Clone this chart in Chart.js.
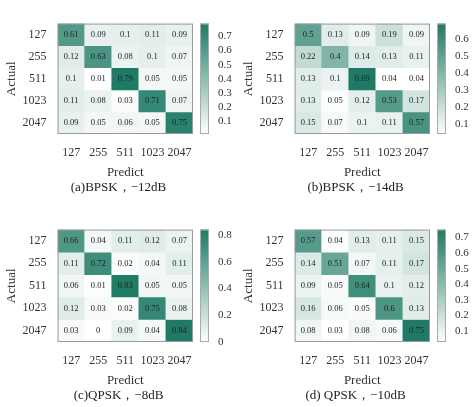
<!DOCTYPE html><html><head><meta charset="utf-8">
<script src="https://cdn.jsdelivr.net/npm/chart.js@4"></script>
<style>
body{margin:0;background:#fff;width:474px;height:407px;overflow:hidden;font-family:"Liberation Serif",serif}
.grid{display:grid;grid-template-columns:237px 237px;grid-template-rows:200px 207px}
.p{position:relative}
.cap{position:absolute;left:0;width:237px;text-align:center;font-size:13px;color:#222}
</style></head><body>
<div class="grid">
<div class="p"><canvas id="c0" width="237" height="180" style="width:237px;height:180px"></canvas><div class="cap" style="top:178px">(a)BPSK，−12dB</div></div>
<div class="p"><canvas id="c1" width="237" height="180" style="width:237px;height:180px"></canvas><div class="cap" style="top:178px">(b)BPSK，−14dB</div></div>
<div class="p"><canvas id="c2" width="237" height="182" style="width:237px;height:182px;margin-top:6px"></canvas><div class="cap" style="top:186px">(c)QPSK，−8dB</div></div>
<div class="p"><canvas id="c3" width="237" height="182" style="width:237px;height:182px;margin-top:6px"></canvas><div class="cap" style="top:186px">(d) QPSK，−10dB</div></div>
</div>
<script>
const classes=["127","255","511","1023","2047"];
const matA=[[0.61,0.09,0.1,0.11,0.09],[0.12,0.63,0.08,0.1,0.07],[0.1,0.01,0.79,0.05,0.05],[0.11,0.08,0.03,0.71,0.07],[0.09,0.05,0.06,0.05,0.75]];
const matB=[[0.5,0.13,0.09,0.19,0.09],[0.22,0.4,0.14,0.13,0.11],[0.13,0.1,0.69,0.04,0.04],[0.13,0.05,0.12,0.53,0.17],[0.15,0.07,0.1,0.11,0.57]];
const matC=[[0.66,0.04,0.11,0.12,0.07],[0.11,0.72,0.02,0.04,0.11],[0.06,0.01,0.83,0.05,0.05],[0.12,0.03,0.02,0.75,0.08],[0.03,0,0.09,0.04,0.84]];
const matD=[[0.57,0.04,0.13,0.11,0.15],[0.14,0.51,0.07,0.11,0.17],[0.09,0.05,0.64,0.1,0.12],[0.16,0.06,0.05,0.6,0.13],[0.08,0.03,0.08,0.06,0.75]];
const cbTicksA=[0.1,0.2,0.3,0.4,0.5,0.6,0.7];
const cbTicksB=[0.1,0.2,0.3,0.4,0.5,0.6];
const cbTicksC=[0,0.2,0.4,0.6,0.8];
const cbTicksD=[0.1,0.2,0.3,0.4,0.5,0.6,0.7];
const cbTicks=[cbTicksA,cbTicksB,cbTicksC,cbTicksD];
const mats=[matA,matB,matC,matD];
const DARK=[30,122,100];
function col(t){t=Math.max(0,Math.min(1,t));const r=Math.round(255+(DARK[0]-255)*t),g=Math.round(255+(DARK[1]-255)*t),b=Math.round(255+(DARK[2]-255)*t);return `rgb(${r},${g},${b})`;}
const F="'Liberation Serif', serif";
mats.forEach((m,k)=>{
  const flat=m.flat();const mn=Math.min(...flat),mx=Math.max(...flat);
  const ds=m.map((row,i)=>({data:row.map(()=>[i,i+1]),backgroundColor:row.map(v=>col((v-mn)/(mx-mn))),grouped:false,categoryPercentage:1,barPercentage:1,borderWidth:0}));
  const plug={id:'hm',afterDatasetsDraw(ch){const c=ch.ctx,a=ch.chartArea,x=ch.scales.x,y=ch.scales.y,cb=ch.scales.cb;
    c.save();c.font="8.5px "+F;c.textAlign='center';c.textBaseline='middle';c.fillStyle='#222';
    m.forEach((row,i)=>row.forEach((v,j)=>c.fillText(String(v),x.getPixelForValue(j),y.getPixelForValue(i+0.5))));
    c.strokeStyle='#999';c.lineWidth=1;c.strokeRect(a.left+0.5,a.top+0.5,a.right-a.left-1,a.bottom-a.top-1);
    const gx=cb.left+7,gw=9;const g=c.createLinearGradient(0,a.bottom,0,a.top);g.addColorStop(0,col(0));g.addColorStop(1,col(1));
    c.fillStyle=g;c.fillRect(gx,a.top,gw,a.bottom-a.top);c.strokeStyle='#aaa';c.strokeRect(gx+0.5,a.top+0.5,gw-1,a.bottom-a.top-1);c.restore();}};
  new Chart(document.getElementById('c'+k),{type:'bar',data:{labels:classes,datasets:ds},plugins:[plug],
   options:{responsive:false,animation:false,events:[],layout:{padding:{left:4,right:4,top:6,bottom:0}},
    plugins:{legend:{display:false},tooltip:{enabled:false}},
    scales:{x:{grid:{display:false},border:{display:false},ticks:{color:'#333',font:{family:F,size:12},padding:4,maxRotation:0,minRotation:0,autoSkip:false},title:{display:true,text:'Predict',color:'#333',font:{family:F,size:13},padding:0}},
     y:{type:'linear',min:0,max:5,reverse:true,grid:{display:false},border:{display:false},
      afterBuildTicks:s=>{s.ticks=[0.5,1.5,2.5,3.5,4.5].map(v=>({value:v}));},
      ticks:{color:'#333',font:{family:F,size:12},padding:3,callback:(v,i)=>classes[i]},
      title:{display:true,text:'Actual',color:'#333',font:{family:F,size:13},padding:0}},
     cb:{type:'linear',position:'right',min:mn,max:mx,grid:{display:false},border:{display:false},
      afterBuildTicks:s=>{s.ticks=cbTicks[k].map(v=>({value:v}));},
      ticks:{color:'#333',font:{family:F,size:11},padding:17,callback:v=>String(v)},afterFit:s=>{s.width=40;}}}}});
});
</script></body></html>
